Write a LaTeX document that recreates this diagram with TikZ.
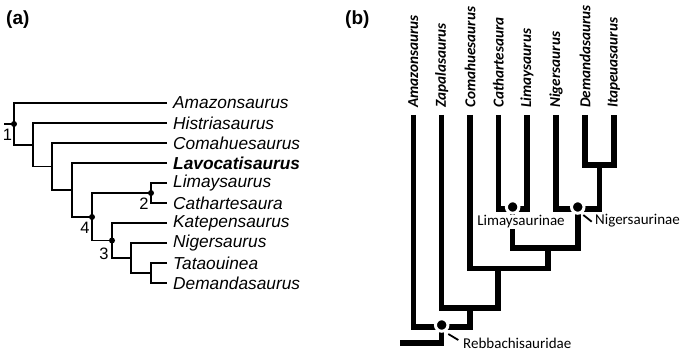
\documentclass[tikz,border=0pt]{standalone}
\usepackage{fontspec}
\setmainfont{Liberation Sans}
\newfontfamily\calfont{Carlito}
\usetikzlibrary{
    calc,       % For coordinate calculations
    positioning % For label positioning
}

\begin{document}
\begin{tikzpicture}[
    x=1pt, y=-1pt, % one unit per pixel, y runs downwards
    thintree/.style={line width=1.6pt, line join=miter},   % Branches of panel (a)
    thicktree/.style={line width=5.5pt, line join=miter},  % Branches of panel (b)
    taxonA/.style={anchor=west, inner sep=0pt, inner xsep=6pt,
        font=\fontsize{17.3}{19}\selectfont\itshape},      % Terminal taxa in (a)
    taxonB/.style={rotate=90, anchor=west, inner sep=0pt, inner xsep=7pt,
        font=\calfont\fontsize{15.2}{17}\selectfont\bfseries\itshape}, % Terminal taxa in (b)
    numlabel/.style={font=\fontsize{16.5}{18}\selectfont, inner sep=0pt}, % Node numbers
    cladelabel/.style={font=\calfont\fontsize{15}{17}\selectfont, inner sep=1pt},
    panel/.style={font=\fontsize{19}{21}\selectfont\bfseries, inner sep=0pt, anchor=west},
    smalldot/.style={fill, circle, inner sep=0pt, minimum size=6pt},
    bigdot/.style={fill, circle, inner sep=0pt, minimum size=12.5pt, draw=white, line width=3pt},
    leader/.style={line width=1.8pt}
]
    \useasboundingbox (0,0) rectangle (685,352);

    % Panel labels
    \node[panel] (pa) at (6,20) {(a)};
    \node[panel] (pb) at (345,20) {(b)};

    % ---------------- Panel (a) ----------------
    \def\leafx{167} % x where the terminal branches end

    % Terminal taxa
    \node[taxonA] (amaz)  at (\leafx,103) {Amazonsaurus};
    \node[taxonA] (hist)  at (\leafx,123) {Histriasaurus};
    \node[taxonA] (comah) at (\leafx,143) {Comahuesaurus};
    \node[taxonA] (lavo)  at (\leafx,163) {\bfseries Lavocatisaurus};
    \node[taxonA] (lima)  at (\leafx,183) {Limaysaurus};
    \node[taxonA] (cath)  at (\leafx,203) {Cathartesaura};
    \node[taxonA] (kate)  at (\leafx,223) {Katepensaurus};
    \node[taxonA] (nige)  at (\leafx,243) {Nigersaurus};
    \node[taxonA] (tata)  at (\leafx,263) {Tataouinea};
    \node[taxonA] (dema)  at (\leafx,283) {Demandasaurus};

    % Internal nodes
    \coordinate (aroot) at (4,124);
    \coordinate (n1) at (14,124);
    \coordinate (nH) at (33,145);
    \coordinate (nC) at (52,166.5);
    \coordinate (nL) at (72,190);
    \coordinate (n4) at (92,217);
    \coordinate (n2) at (151,193);
    \coordinate (n3) at (112,240.5);
    \coordinate (nN) at (131,258);
    \coordinate (nD) at (151,273);

    % Branches
    \draw[thintree] (aroot) -- (n1);
    \draw[thintree] (amaz.west) -| (n1) |- (nH);
    \draw[thintree] (hist.west) -| (nH) |- (nC);
    \draw[thintree] (comah.west) -| (nC) |- (nL);
    \draw[thintree] (lavo.west) -| (nL) |- (n4);
    \draw[thintree] (n2) -| (n4) |- (n3);
    \draw[thintree] (lima.west) -| (n2) |- (cath.west);
    \draw[thintree] (kate.west) -| (n3) |- (nN);
    \draw[thintree] (nige.west) -| (nN) |- (nD);
    \draw[thintree] (tata.west) -| (nD) |- (dema.west);

    % Dots and numbers
    \node[smalldot] (d1) at (n1) {};
    \node[smalldot] (d2) at (n2) {};
    \node[smalldot] (d3) at (n3) {};
    \node[smalldot] (d4) at (n4) {};
    \node[numlabel] (lab1) at (7.5,135) {1};
    \node[numlabel] (lab2) at (144,204) {2};
    \node[numlabel] (lab3) at (104,253.5) {3};
    \node[numlabel] (lab4) at (85,228) {4};

    % ---------------- Panel (b) ----------------
    \def\topy{115} % y where the terminal branches start

    % Terminal taxa (rotated)
    \node[taxonB] (bAmaz) at (413.3,\topy) {Amazonsaurus};
    \node[taxonB] (bZapa) at (441.7,\topy) {Zapalasaurus};
    \node[taxonB] (bComa) at (470,\topy)   {Comahuesaurus};
    \node[taxonB] (bCath) at (498.3,\topy) {Cathartesaura};
    \node[taxonB] (bLima) at (527,\topy)   {Limaysaurus};
    \node[taxonB] (bNige) at (556,\topy)   {Nigersaurus};
    \node[taxonB] (bDema) at (585,\topy)   {Demandasaurus};
    \node[taxonB] (bItap) at (614,\topy)   {Itapeuasaurus};

    % Internal nodes
    \coordinate (nDI)  at (599.5,165);
    \coordinate (nNig) at (577.75,209);
    \coordinate (nLim) at (512.65,209);
    \coordinate (nLN)  at (548,248);
    \coordinate (nCo)  at (498,268.5);
    \coordinate (nZ)   at (470,308);
    \coordinate (nR)   at (441.7,327);
    \coordinate (broot) at (400,343);

    % Branches
    \draw[thicktree] (bAmaz.west) |- (nR) -| (nZ);
    \draw[thicktree] (bZapa.west) |- (nZ) -| (nCo);
    \draw[thicktree] (bComa.west) |- (nCo) -| (nLN);
    \draw[thicktree] (nLim) |- (nLN) -| (nNig);
    \draw[thicktree] (bCath.west) |- (nLim) -| (bLima.west);
    \draw[thicktree] (bNige.west) |- (nNig) -| (nDI);
    \draw[thicktree] (bDema.west) |- (nDI) -| (bItap.west);
    \draw[thicktree] (nR) |- (broot);

    % Dots with white halo
    \node[bigdot] (dR)   at ($(nR)+(0,-2)$) {};
    \node[bigdot] (dLim) at ($(nLim)+(0,-2)$) {};
    \node[bigdot] (dNig) at ($(nNig)+(0,-2)$) {};

    % Clade names and leaders
    \coordinate (rebbA) at (448.3,334);
    \coordinate (rebbB) at (458.3,340);
    \draw[leader] (rebbA) -- (rebbB);
    \node[cladelabel, anchor=west] (rebbLab) at (462,343.5) {Rebbachisauridae};

    \coordinate (nigA) at (583.3,215);
    \coordinate (nigB) at (591.7,221.7);
    \draw[leader] (nigA) -- (nigB);
    \node[cladelabel, anchor=west] (nigLab) at (594,221) {Nigersaurinae};

    \node[cladelabel, fill=white] (limaLab) at (521,222) {Limaysaurinae};

\end{tikzpicture}
\end{document}
